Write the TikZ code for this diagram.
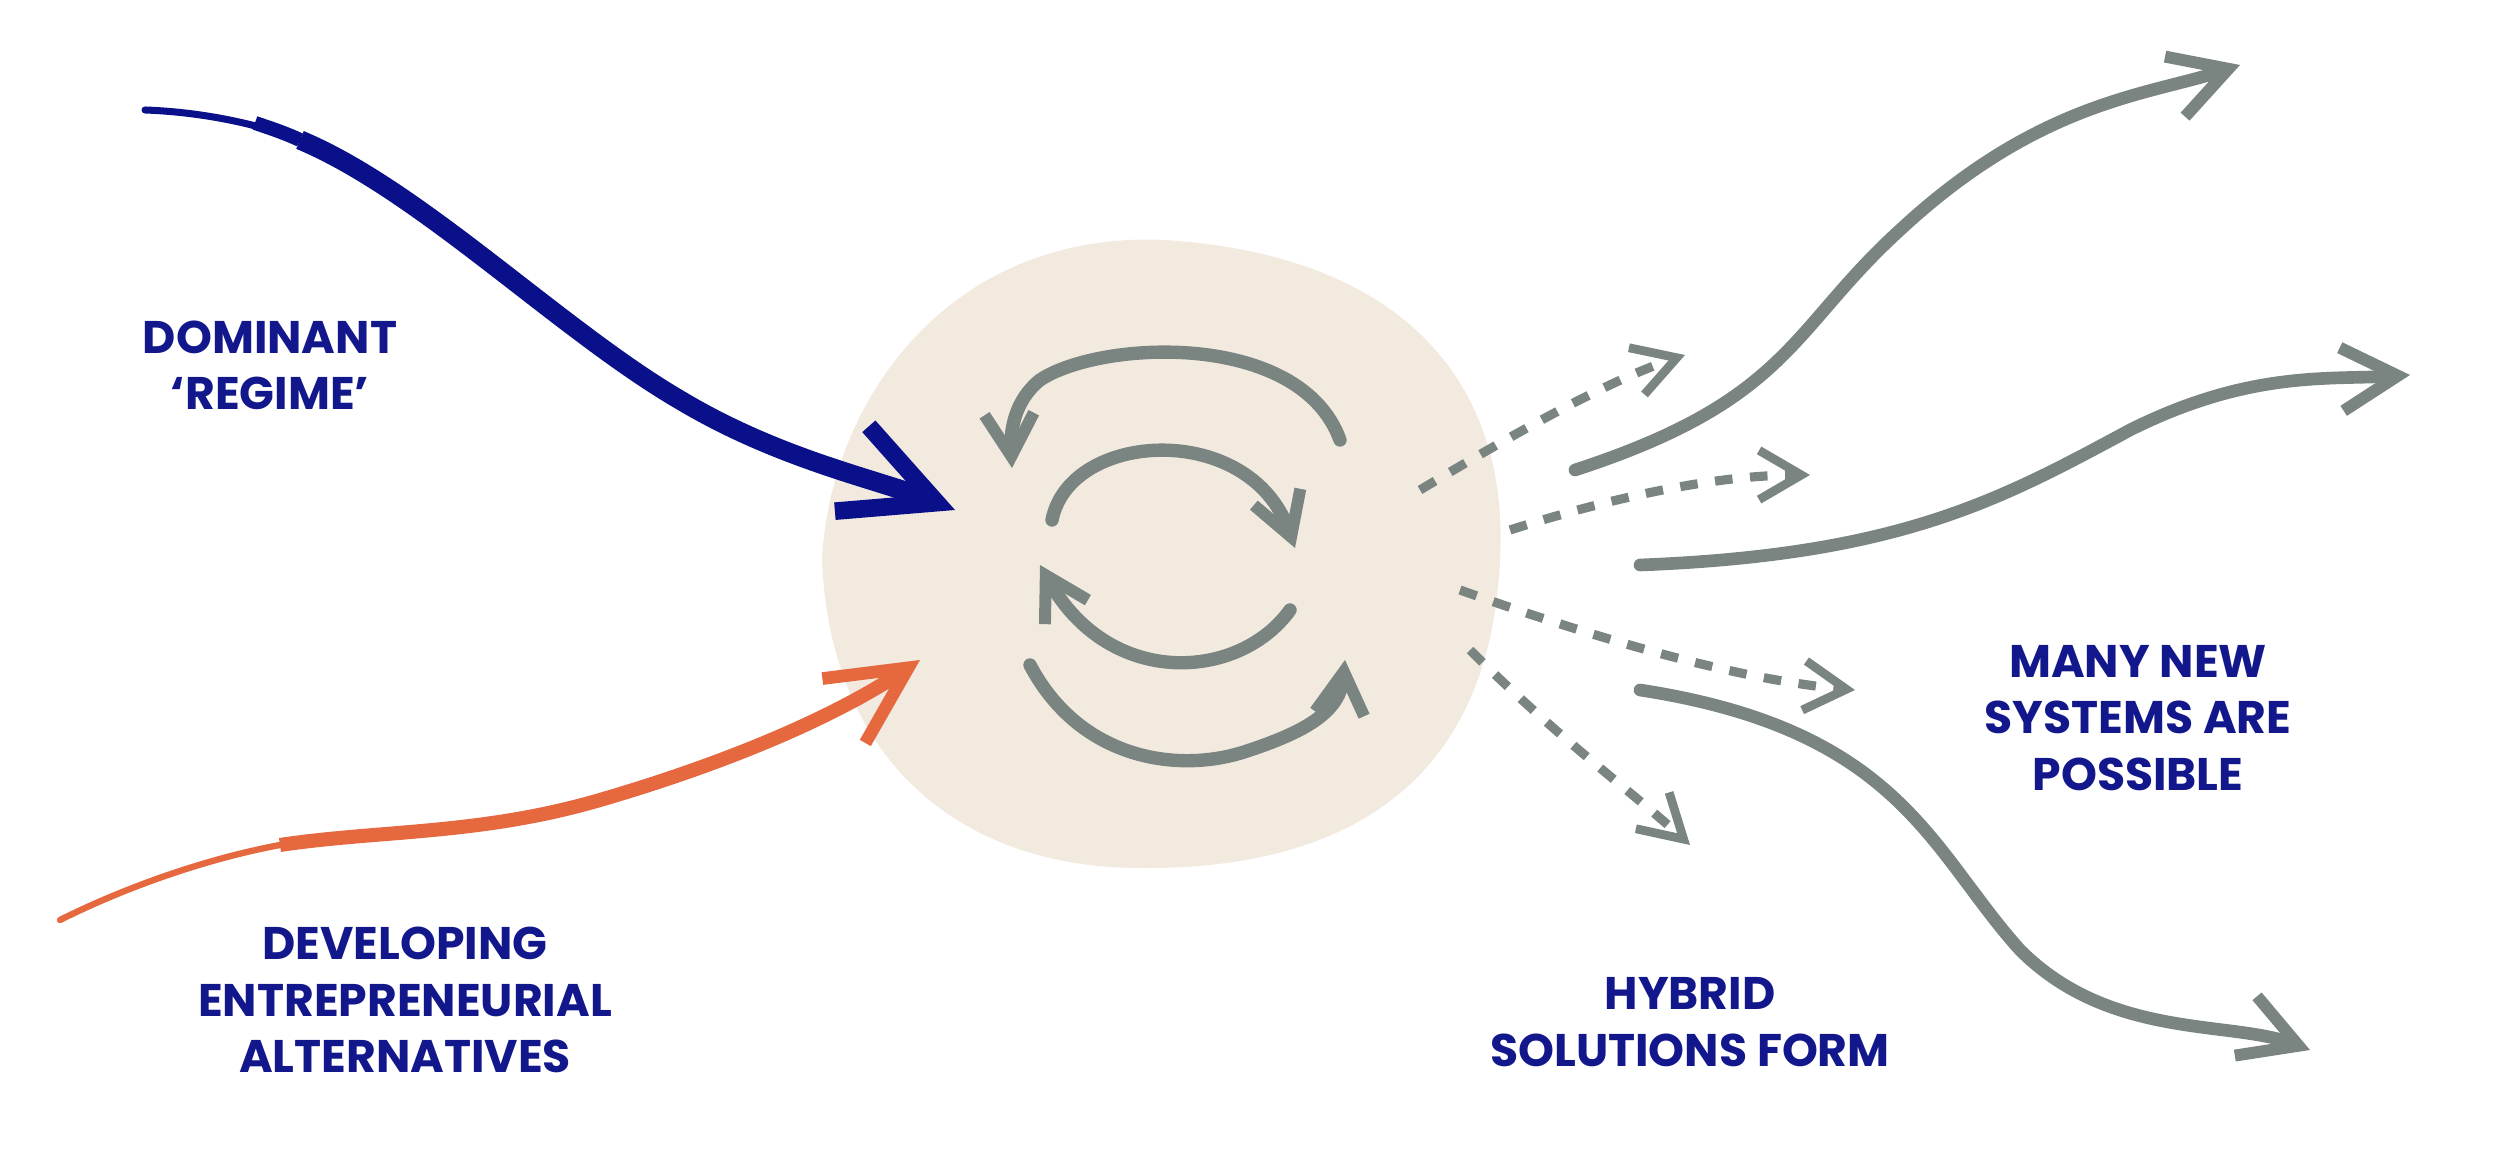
\documentclass[tikz,border=0pt]{standalone}
\usepackage{fontspec}
\setmainfont{Poppins}
\usetikzlibrary{arrows.meta}
\definecolor{navy}{HTML}{13178C}
\definecolor{arrnavy}{HTML}{0A0F8A}
\definecolor{orng}{HTML}{E5683F}
\definecolor{gry}{HTML}{7A8480}
\definecolor{beige}{HTML}{F2EADF}
\tikzset{
 lab/.style={text=navy,font=\bfseries\fontsize{13}{16}\selectfont,align=center},
 garr/.style={draw=gry,line width=3.6pt,line cap=round,-{Straight Barb[length=16pt,width=18pt,line width=3.4pt]}},
 gdash/.style={draw=gry,line width=2.6pt,dash pattern=on 5pt off 5pt,-{Straight Barb[length=12pt,width=14pt,line width=2.5pt]}},
 loop/.style={draw=gry,line width=3.8pt,line cap=round,-{Straight Barb[length=12pt,width=14pt,line width=3.4pt]}}
}
\begin{document}
\begin{tikzpicture}[x=0.01cm,y=-0.01cm]
\useasboundingbox (0,0) rectangle (2500,1168);
\fill[beige] (1165,240) .. controls (1400,255) and (1510,380) .. (1500,560)
 .. controls (1490,780) and (1350,870) .. (1140,868)
 .. controls (960,868) and (830,760) .. (822,560)
 .. controls (830,400) and (950,230) .. (1165,240);
\coordinate (bs) at (145,110); \coordinate (be) at (955,510);
\draw[arrnavy,line width=2pt,line cap=round] (bs) .. controls (200,112) and (255,123) .. (300,140);
\draw[arrnavy,line width=4pt,line cap=butt] (255,123) .. controls (270,128) and (285,133) .. (300,140);
\draw[arrnavy,line width=5.5pt,line cap=butt,-{Straight Barb[length=26pt,width=26pt,line width=5pt]}]
 (300,140) .. controls (420,190) and (560,330) .. (680,400) .. controls (780,460) and (880,480) .. (be);
\coordinate (os) at (60,920); \coordinate (oe) at (920,660);
\draw[orng,line width=1.8pt,line cap=round] (os) .. controls (120,890) and (200,860) .. (280,845);
\draw[orng,line width=4pt,line cap=butt,-{Straight Barb[length=22pt,width=22pt,line width=3.6pt]}]
 (280,845) .. controls (380,830) and (480,835) .. (600,800) .. controls (720,765) and (830,720) .. (oe);
% right solid arrows
\coordinate (g1s) at (1575,470); \coordinate (g1e) at (2240,65);
\draw[garr] (g1s) .. controls (1790,400) and (1790,330) .. (1900,230) .. controls (2040,100) and (2150,95) .. (g1e);
\coordinate (g2s) at (1640,565); \coordinate (g2e) at (2410,375);
\draw[garr] (g2s) .. controls (1900,555) and (2000,500) .. (2130,430) .. controls (2250,370) and (2330,380) .. (g2e);
\coordinate (g3s) at (1640,690); \coordinate (g3e) at (2310,1050);
\draw[garr] (g3s) .. controls (1900,730) and (1930,850) .. (2020,950) .. controls (2110,1040) and (2230,1020) .. (g3e);
% dashed arrows
\coordinate (d1s) at (1420,490); \coordinate (d1e) at (1685,355);
\draw[gdash] (d1s) .. controls (1520,430) and (1610,380) .. (d1e);
\coordinate (d2s) at (1510,530); \coordinate (d2e) at (1810,475);
\draw[gdash] (d2s) .. controls (1620,495) and (1720,475) .. (d2e);
\coordinate (d3s) at (1460,590); \coordinate (d3e) at (1855,690);
\draw[gdash] (d3s) .. controls (1600,640) and (1740,680) .. (d3e);
\coordinate (d4s) at (1470,650); \coordinate (d4e) at (1690,845);
\draw[gdash] (d4s) .. controls (1560,740) and (1630,790) .. (d4e);
% centre loops
\coordinate (l1s) at (1340,440); \coordinate (l1e) at (1012,468);
\draw[loop] (l1s) .. controls (1300,330) and (1100,340) .. (1040,380) .. controls (1015,400) and (1010,430) .. (l1e);
\coordinate (l2s) at (1030,665); \coordinate (l2e) at (1345,660);
\draw[loop] (l2s) .. controls (1080,760) and (1180,775) .. (1250,750) .. controls (1310,730) and (1340,710) .. (l2e);
\coordinate (l3s) at (1052,520); \coordinate (l3e) at (1295,548);
\draw[loop] (l3s) .. controls (1070,430) and (1250,420) .. (l3e);
\coordinate (l4s) at (1290,610); \coordinate (l4e) at (1040,565);
\draw[loop] (l4s) .. controls (1240,680) and (1110,690) .. (l4e);
% labels
\node[lab] (t1) at (270,365) {DOMINANT\\‘REGIME’};
\node[lab] (t2) at (405,1000) {DEVELOPING\\ENTREPRENEURIAL\\ALTERNATIVES};
\node[lab] (t3) at (1690,1022) {HYBRID\\SOLUTIONS FORM};
\node[lab] (t4) at (2138,718) {MANY NEW\\SYSTEMS ARE\\POSSIBLE};
\end{tikzpicture}
\end{document}
